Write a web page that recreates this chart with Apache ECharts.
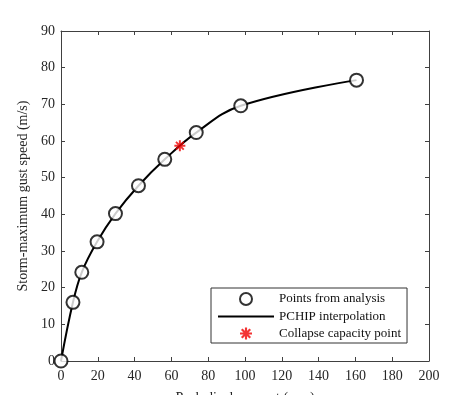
<!DOCTYPE html>
<html>
<head>
<meta charset="utf-8">
<script src="https://cdn.jsdelivr.net/npm/echarts@6/dist/echarts.min.js"></script>
<style>html,body{margin:0;padding:0;background:#fff}#c{width:474px;height:395px}</style>
</head>
<body>
<div id="c"></div>
<script>
const displacement = [0, 6.5, 11.3, 19.6, 29.6, 42.1, 56.4, 73.5, 97.7, 160.6];
const gustSpeed = [0, 16.0, 24.2, 32.5, 40.2, 47.8, 55.0, 62.3, 69.6, 76.6];
const collapsePoint = [64.6, 58.7];
const xTicks = [0, 20, 40, 60, 80, 100, 120, 140, 160, 180, 200];
const yTicks = [0, 10, 20, 30, 40, 50, 60, 70, 80, 90];

const pts = displacement.map((x, i) => [x, gustSpeed[i]]);
const star = 'path://M41 0L59 0L59 100L41 100Z M100 41L100 59L0 59L0 41Z M20.9 8.2L91.8 79.1L79.1 91.8L8.2 20.9Z M91.8 20.9L20.9 91.8L8.2 79.1L79.1 8.2Z';
const font = 'Liberation Serif';
const axCol = '#404040';
const txtCol = '#262626';

const chart = echarts.init(document.getElementById('c'), null, {renderer: 'canvas'});
const baseX = {
  type: 'value', min: 0, max: 200, interval: 20,
  axisLine: {show: true, onZero: false, lineStyle: {color: axCol, width: 1}},
  axisTick: {show: true, inside: true, length: 4, lineStyle: {color: axCol}},
  splitLine: {show: false}
};
const baseY = {
  type: 'value', min: 0, max: 90, interval: 10,
  axisLine: {show: true, onZero: false, lineStyle: {color: axCol, width: 1}},
  axisTick: {show: true, inside: true, length: 4, lineStyle: {color: axCol}},
  splitLine: {show: false}
};
chart.setOption({
  animation: false,
  textStyle: {fontFamily: font},
  grid: {left: 61, right: 45, top: 31, bottom: 34, containLabel: false, outerBoundsMode: 'none'},
  xAxis: [
    Object.assign({}, baseX, {
      position: 'bottom',
      name: 'Peak displacement (mm)', nameLocation: 'middle', nameGap: 30,
      nameTextStyle: {fontFamily: font, fontSize: 14, color: txtCol},
      axisLabel: {fontFamily: font, fontSize: 14, color: txtCol, margin: 8,
        formatter: v => xTicks.includes(v) ? String(v) : ''}
    }),
    Object.assign({}, baseX, {position: 'top', axisLabel: {show: false}})
  ],
  yAxis: [
    Object.assign({}, baseY, {
      position: 'left',
      name: 'Storm-maximum gust speed (m/s)', nameLocation: 'middle', nameGap: 27,
      nameTextStyle: {fontFamily: font, fontSize: 14, color: txtCol},
      axisLabel: {fontFamily: font, fontSize: 14, color: txtCol, margin: 6,
        formatter: v => yTicks.includes(v) ? String(v) : ''}
    }),
    Object.assign({}, baseY, {position: 'right', axisLabel: {show: false}})
  ],
  legend: {
    orient: 'vertical', left: 211, top: 288, width: 198,
    padding: [4, 6, 3, 6],
    borderColor: '#333', borderWidth: 1, backgroundColor: '#fff',
    itemWidth: 56, itemHeight: 12, itemGap: 4,
    textStyle: {fontFamily: font, fontSize: 13, color: '#111', lineHeight: 13},
    data: [
      {name: 'Points from analysis', icon: 'emptyCircle'},
      {name: 'PCHIP interpolation', itemStyle: {opacity: 0}},
      {name: 'Collapse capacity point', icon: star}
    ]
  },
  series: [
    {
      name: 'PCHIP interpolation', type: 'line', data: pts,
      smooth: 0.4, showSymbol: false, symbol: 'none',
      lineStyle: {color: '#000', width: 2}, itemStyle: {color: '#000'}, z: 2
    },
    {
      name: 'Points from analysis', type: 'scatter', data: pts,
      symbol: 'emptyCircle', symbolSize: 13,
      itemStyle: {color: '#000', borderColor: '#000', borderWidth: 2}, z: 3
    },
    {
      name: 'Collapse capacity point', type: 'scatter', data: [collapsePoint],
      symbol: star, symbolSize: 11,
      itemStyle: {color: '#f00000'}, z: 4
    }
  ]
});
</script>
</body>
</html>
